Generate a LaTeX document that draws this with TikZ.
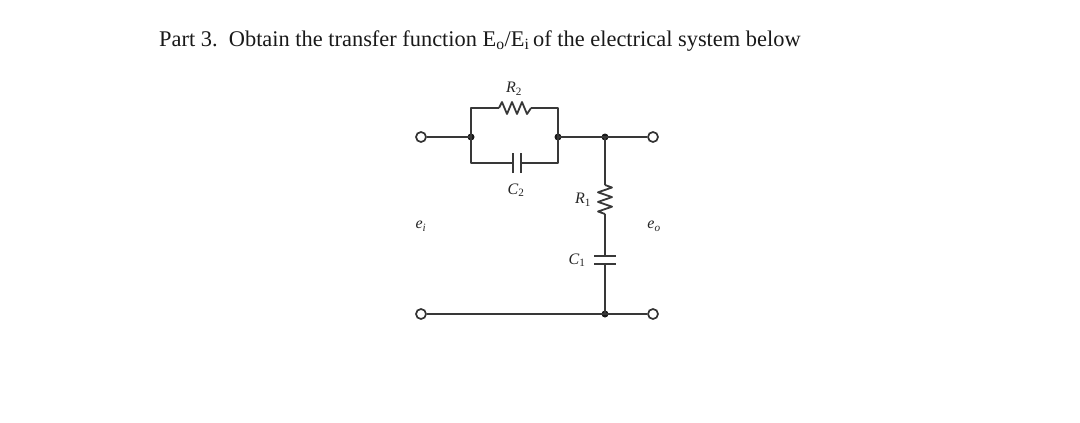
\documentclass[tikz,border=0pt]{standalone}
\usepackage{fontspec}
\setmainfont{Liberation Serif}
\begin{document}
\begin{tikzpicture}[x=1pt,y=-1pt,
  wire/.style={line width=1.8pt,color=black!78,line join=round},
  terminal/.style={circle,draw=black!80,line width=1.7pt,fill=white,inner sep=0pt,minimum size=10pt},
  junction/.style={circle,fill=black!90,inner sep=0pt,minimum size=7pt},
  partlabel/.style={inner sep=0pt,text=black!85,font=\fontsize{16}{16}\selectfont\itshape},
  title/.style={inner sep=0pt,anchor=base west,text=black!90,font=\fontsize{22.4}{22.4}\selectfont}]
\useasboundingbox (0,0) rectangle (1080,423);
\node[title] (head) at (159,46) {Part 3.\ \ Obtain the transfer function E\textsubscript{o}/E\textsubscript{i}\,of the electrical system below};
% corners and component leads
\coordinate (r2a) at (499,108);
\coordinate (r2b) at (531,108);
\coordinate (c2a) at (513,163);
\coordinate (c2b) at (521,163);
\coordinate (r1a) at (605,185);
\coordinate (r1b) at (605,214);
\coordinate (c1a) at (605,256);
\coordinate (c1b) at (605,264);
% junctions and terminals, placed as named nodes before the wires are needed
\node[junction] (nl) at (471,137) {};
\node[junction] (nr) at (558,137) {};
\node[junction] (nj) at (605,137) {};
\node[junction] (nb) at (605,314) {};
\node[terminal] (tl) at (421,137) {};
\node[terminal] (tr) at (653,137) {};
\node[terminal] (bl) at (421,314) {};
\node[terminal] (br) at (653,314) {};
% wires
\draw[wire] (tl) -- (nl.center);
\draw[wire] (nr.center) -- (nj.center) -- (tr);
\draw[wire] (bl) -- (nb.center) -- (br);
\draw[wire] (nl.center) |- (r2a);
\draw[wire] (r2b) -| (nr.center);
\draw[wire] (nl.center) |- (c2a);
\draw[wire] (c2b) -| (nr.center);
\draw[wire] (nj.center) -- (r1a);
\draw[wire] (r1b) -- (c1a);
\draw[wire] (c1b) -- (nb.center);
% R2
\draw[wire] (r2a) -- ++(3,-6) -- ++(5,12) -- ++(5,-12) -- ++(5,12) -- ++(5,-12) -- ++(5,12) -- (r2b);
% R1
\draw[wire] (r1a) -- ++(7,2.5) -- ++(-14,4.8) -- ++(14,4.8) -- ++(-14,4.8) -- ++(14,4.8) -- ++(-14,4.8) -- (r1b);
% C2 plates
\draw[wire] ([yshift=-10pt]c2a) -- ([yshift=10pt]c2a);
\draw[wire] ([yshift=-10pt]c2b) -- ([yshift=10pt]c2b);
% C1 plates
\draw[wire] ([xshift=-11pt]c1a) -- ([xshift=11pt]c1a);
\draw[wire] ([xshift=-11pt]c1b) -- ([xshift=11pt]c1b);
% labels
\node[partlabel] (lr2) at (514,89) {R\textsubscript{\upshape 2}};
\node[partlabel] (lc2) at (516,190) {C\textsubscript{\upshape 2}};
\node[partlabel] (lr1) at (583,200) {R\textsubscript{\upshape 1}};
\node[partlabel] (lc1) at (577,260) {C\textsubscript{\upshape 1}};
\node[partlabel] (lei) at (421,226) {e\textsubscript{i}};
\node[partlabel] (leo) at (654,226) {e\textsubscript{o}};
\end{tikzpicture}
\end{document}
